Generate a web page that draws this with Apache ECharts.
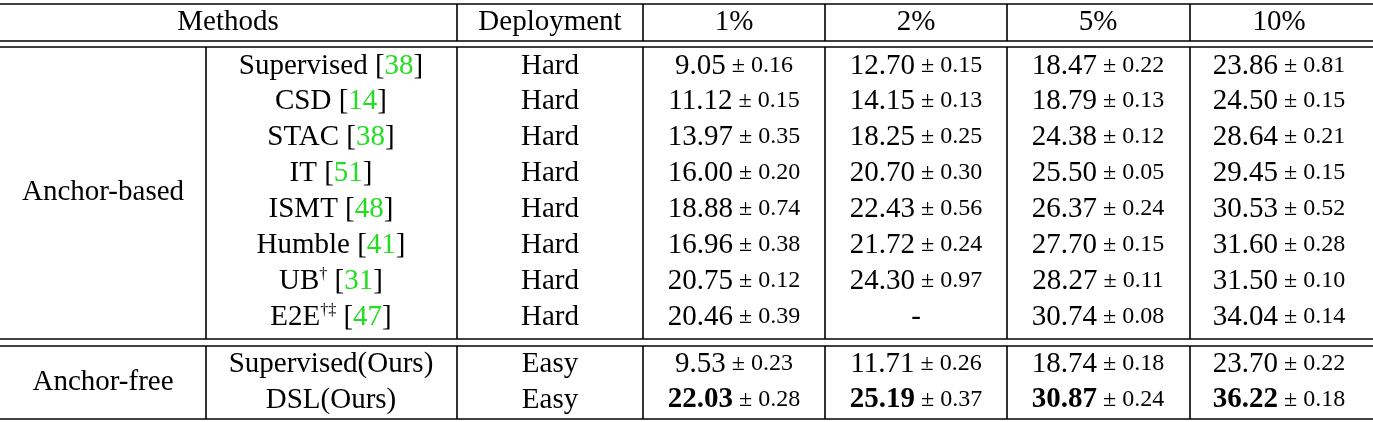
<!DOCTYPE html>
<html><head><meta charset="utf-8">
<script src="https://cdn.jsdelivr.net/npm/echarts@6/dist/echarts.min.js"></script>
<style>html,body{margin:0;padding:0;background:#fff}#c{width:1373px;height:422px}</style>
</head><body><div id="c"></div>
<script>
// ---- data ----
const headers = ['Methods','Deployment','1%','2%','5%','10%'];
const groups = ['Anchor-based','Anchor-free'];
const methods = ['Supervised','CSD','STAC','IT','ISMT','Humble','UB','E2E','Supervised(Ours)','DSL(Ours)'];
const sups = ['','','','','','','†','†‡','',''];
const refs = ['38','14','38','51','48','41','31','47','',''];
const deploy = ['Hard','Hard','Hard','Hard','Hard','Hard','Hard','Hard','Easy','Easy'];
const p1 = [['9.05','0.16'],['11.12','0.15'],['13.97','0.35'],['16.00','0.20'],['18.88','0.74'],['16.96','0.38'],['20.75','0.12'],['20.46','0.39'],['9.53','0.23'],['22.03','0.28']];
const p2 = [['12.70','0.15'],['14.15','0.13'],['18.25','0.25'],['20.70','0.30'],['22.43','0.56'],['21.72','0.24'],['24.30','0.97'],null,['11.71','0.26'],['25.19','0.37']];
const p5 = [['18.47','0.22'],['18.79','0.13'],['24.38','0.12'],['25.50','0.05'],['26.37','0.24'],['27.70','0.15'],['28.27','0.11'],['30.74','0.08'],['18.74','0.18'],['30.87','0.24']];
const p10 = [['23.86','0.81'],['24.50','0.15'],['28.64','0.21'],['29.45','0.15'],['30.53','0.52'],['31.60','0.28'],['31.50','0.10'],['34.04','0.14'],['23.70','0.22'],['36.22','0.18']];
const boldRow = 9;

// ---- layout ----
const colX = [103, 331, 550, 734, 916, 1098, 1279];
const headerX = [228, 550, 734, 916, 1098, 1279];
const headerY = 22;
const rowY = [66,101,137,173,209,245,281,317,364,400];
const groupY = [192, 382];
const hLines = [4, 41, 47, 339, 346, 419];
const vHeader = [457,643,825,1007,1190];
const vBody = [206,457,643,825,1007,1190];

const FAM = '"Liberation Serif", "Times New Roman", serif';
const FS = 29, FSS = 24;
const rich = {
  n:{fontSize:FS,fontFamily:FAM,fill:'#000'},
  b:{fontSize:FS,fontFamily:FAM,fill:'#000',fontWeight:'bold'},
  s:{fontSize:FSS,fontFamily:FAM,fill:'#000'},
  g:{fontSize:FS,fontFamily:FAM,fill:'#22dd22'},
  u:{fontSize:16,fontFamily:FAM,fill:'#000',verticalAlign:'top',padding:[0,0,12,0]}
};
const cells = [];
headers.forEach((h,i)=>cells.push([headerX[i], headerY, '{n|'+h+'}']));
groups.forEach((g,i)=>cells.push([colX[0], groupY[i], '{n|'+g+'}']));
methods.forEach((m,i)=>{
  let t = '{n|'+m+'}';
  if (sups[i]) t += '{u|'+sups[i]+'}';
  if (refs[i]) t += '{n| [}{g|'+refs[i]+'}{n|]}';
  cells.push([colX[1], rowY[i], t]);
  cells.push([colX[2], rowY[i], '{n|'+deploy[i]+'}']);
  [p1,p2,p5,p10].forEach((arr,k)=>{
    const v = arr[i];
    const t2 = v ? '{'+(i===boldRow?'b':'n')+'|'+v[0]+'}{s| ± '+v[1]+'}' : '{n|-}';
    cells.push([colX[3+k], rowY[i], t2]);
  });
});
const segs = [];
hLines.forEach(y=>segs.push([0,y,1373,y]));
vHeader.forEach(x=>segs.push([x,hLines[0],x,hLines[1]]));
vBody.forEach(x=>{segs.push([x,hLines[2],x,hLines[3]]);segs.push([x,hLines[4],x,hLines[5]]);});

const chart = echarts.init(document.getElementById('c'));
chart.setOption({
  animation:false,
  grid:{left:0,right:0,top:0,bottom:0},
  xAxis:{type:'value',min:0,max:1373,show:false},
  yAxis:{type:'value',min:0,max:422,inverse:true,show:false},
  series:[
    {type:'custom',data:segs,renderItem:(p,api)=>{
      const a=api.coord([api.value(0),api.value(1)]), b=api.coord([api.value(2),api.value(3)]);
      return {type:'line',shape:{x1:Math.round(a[0]),y1:Math.round(a[1]),x2:Math.round(b[0]),y2:Math.round(b[1])},style:{stroke:'#000',lineWidth:1.6}};
    }},
    {type:'custom',data:cells.map(c=>[c[0],c[1]]),renderItem:(p,api)=>{
      const a=api.coord([api.value(0),api.value(1)]);
      return {type:'text',x:a[0],y:a[1],style:{text:cells[p.dataIndex][2],rich:rich,align:'center',verticalAlign:'middle'}};
    }}
  ]
});
</script></body></html>
